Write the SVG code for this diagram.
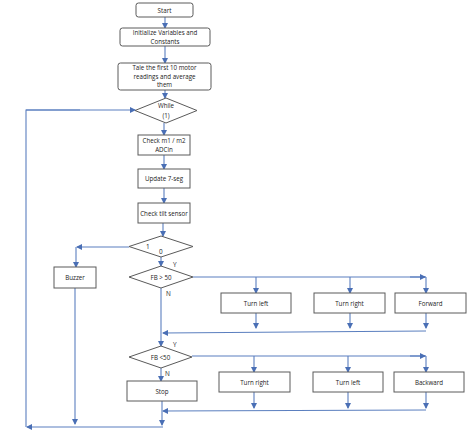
<svg xmlns="http://www.w3.org/2000/svg" width="474" height="438" viewBox="0 0 474 438">
<style>
.box{fill:#fff;stroke:#5a5a5a;stroke-width:1}
.dia{fill:#fff;stroke:#5a5a5a;stroke-width:1}
.ln{fill:none;stroke:#5b7fbf;stroke-width:1.1}
.t{font-family:"Open Sans","Liberation Sans",sans-serif;font-size:6.2px;fill:#222;text-anchor:middle}
.lb{font-family:"Open Sans","Liberation Sans",sans-serif;font-size:6.4px;fill:#222}
</style>
<defs>
<marker id="a" markerWidth="6" markerHeight="6" refX="5" refY="3" orient="auto" markerUnits="userSpaceOnUse">
<path d="M0,0 L6,3 L0,6 Z" fill="#4a6fb5"/>
</marker>
</defs>
<rect width="474" height="438" fill="#fff"/>
<g id="connectors">
<line class="ln" x1="165" y1="17" x2="165" y2="28" marker-end="url(#a)"/>
<line class="ln" x1="165" y1="46" x2="165" y2="63" marker-end="url(#a)"/>
<line class="ln" x1="165" y1="90" x2="165" y2="98" marker-end="url(#a)"/>
<line class="ln" x1="164" y1="123" x2="164" y2="135" marker-end="url(#a)"/>
<line class="ln" x1="164" y1="155" x2="164" y2="169" marker-end="url(#a)"/>
<line class="ln" x1="164" y1="188" x2="164" y2="203" marker-end="url(#a)"/>
<line class="ln" x1="163" y1="223" x2="163" y2="236" marker-end="url(#a)"/>
<line class="ln" x1="129" y1="247" x2="77" y2="247" marker-end="url(#a)"/>
<line class="ln" x1="76" y1="247" x2="76" y2="267" marker-end="url(#a)"/>
<line class="ln" x1="161" y1="257" x2="161" y2="266" marker-end="url(#a)"/>
<polyline class="ln" points="193,277 426,277"/>
<line class="ln" x1="410" y1="277" x2="425" y2="277" marker-end="url(#a)"/>
<line class="ln" x1="426" y1="277" x2="426" y2="293" marker-end="url(#a)"/>
<line class="ln" x1="256" y1="277" x2="256" y2="293" marker-end="url(#a)"/>
<line class="ln" x1="350" y1="277" x2="350" y2="293" marker-end="url(#a)"/>
<line class="ln" x1="256" y1="313" x2="256" y2="328" marker-end="url(#a)"/>
<line class="ln" x1="350" y1="313" x2="350" y2="328" marker-end="url(#a)"/>
<line class="ln" x1="426" y1="313" x2="426" y2="328" marker-end="url(#a)"/>
<line class="ln" x1="426" y1="331" x2="163" y2="333" marker-end="url(#a)"/>
<line class="ln" x1="161" y1="288" x2="161" y2="346" marker-end="url(#a)"/>
<polyline class="ln" points="192,356 426,356"/>
<line class="ln" x1="410" y1="356" x2="425" y2="356" marker-end="url(#a)"/>
<line class="ln" x1="426" y1="356" x2="426" y2="372" marker-end="url(#a)"/>
<line class="ln" x1="254" y1="356" x2="254" y2="372" marker-end="url(#a)"/>
<line class="ln" x1="348" y1="356" x2="348" y2="372" marker-end="url(#a)"/>
<line class="ln" x1="254" y1="392" x2="254" y2="408" marker-end="url(#a)"/>
<line class="ln" x1="348" y1="392" x2="348" y2="408" marker-end="url(#a)"/>
<line class="ln" x1="426" y1="392" x2="426" y2="408" marker-end="url(#a)"/>
<line class="ln" x1="426" y1="410" x2="163" y2="411" marker-end="url(#a)"/>
<line class="ln" x1="161" y1="368" x2="161" y2="381" marker-end="url(#a)"/>
<line class="ln" x1="162" y1="401" x2="162" y2="425" marker-end="url(#a)"/>
<line class="ln" x1="75" y1="288" x2="75" y2="424" marker-end="url(#a)"/>
<line class="ln" x1="163" y1="427" x2="27" y2="427" marker-end="url(#a)"/>
<polyline class="ln" points="26,427 26,110 80,110"/>
<line class="ln" x1="26" y1="110" x2="135" y2="110" marker-end="url(#a)"/>
</g>
<g id="start"><rect class="box" x="136" y="3" width="57" height="14" rx="2.5"/><text class="t" x="164.5" y="12.5">Start</text></g>
<g id="init"><rect class="box" x="120" y="28" width="90" height="18" rx="2.5"/><text class="t" x="165" y="35">Initialize Variables and</text><text class="t" x="165" y="43.5">Constants</text></g>
<g id="take"><rect class="box" x="118" y="63" width="93" height="27" rx="2.5"/><text class="t" x="164.5" y="70">Tale the first 10 motor</text><text class="t" x="164.5" y="78.5">readings and average</text><text class="t" x="164.5" y="87">them</text></g>
<g id="while"><polygon class="dia" points="135,110.5 166,98 197,110.5 166,123"/><text class="t" x="166" y="108">While</text><text class="t" x="166" y="118">(1)</text></g>
<g id="check"><rect class="box" x="138" y="135" width="52" height="20"/><text class="t" x="164" y="143">Check m1 / m2</text><text class="t" x="164" y="151.5">ADCin</text></g>
<g id="update"><rect class="box" x="138" y="169" width="52" height="19"/><text class="t" x="164" y="181">Update 7-seg</text></g>
<g id="tilt"><rect class="box" x="138" y="203" width="52" height="20"/><text class="t" x="164" y="215.5">Check tilt sensor</text></g>
<g id="tiltdec"><polygon class="dia" points="129,246.5 161,236 193,246.5 161,257"/><text class="lb" x="146" y="248.5">1</text><text class="lb" x="159" y="253.5">0</text></g>
<g id="buzzer"><rect class="box" x="54" y="267" width="42" height="21"/><text class="t" x="75" y="280">Buzzer</text></g>
<g id="fb50"><polygon class="dia" points="129,277 161,266 193,277 161,288"/><text class="t" x="161" y="279.5">FB &gt; 50</text><text class="lb" x="173" y="267">Y</text><text class="lb" x="166" y="296">N</text></g>
<g id="turnleft1"><rect class="box" x="221" y="293" width="70" height="20"/><text class="t" x="256" y="305.5">Turn left</text></g>
<g id="turnright1"><rect class="box" x="314" y="293" width="71" height="20"/><text class="t" x="349.5" y="305.5">Turn right</text></g>
<g id="forward"><rect class="box" x="395" y="293" width="71" height="20"/><text class="t" x="430.5" y="305.5">Forward</text></g>
<g id="fblt50"><polygon class="dia" points="129,357 161,346 192,357 161,368"/><text class="t" x="160.5" y="359.5">FB &lt;50</text><text class="lb" x="173" y="347">Y</text><text class="lb" x="165" y="376">N</text></g>
<g id="stop"><rect class="box" x="127" y="381" width="70" height="20"/><text class="t" x="162" y="393.5">Stop</text></g>
<g id="turnright2"><rect class="box" x="219" y="372" width="71" height="20"/><text class="t" x="254.5" y="384.5">Turn right</text></g>
<g id="turnleft2"><rect class="box" x="313" y="372" width="70" height="20"/><text class="t" x="348" y="384.5">Turn left</text></g>
<g id="backward"><rect class="box" x="394" y="372" width="70" height="20"/><text class="t" x="429" y="384.5">Backward</text></g>
</svg>
